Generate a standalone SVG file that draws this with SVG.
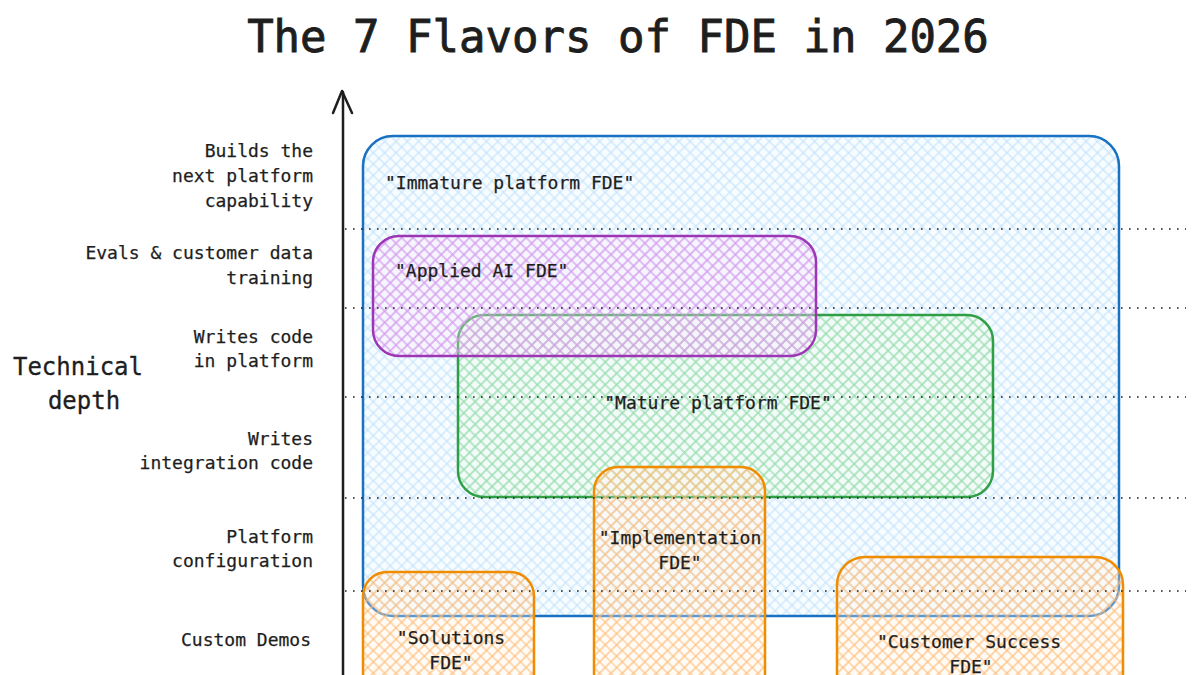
<svg xmlns="http://www.w3.org/2000/svg" width="1200" height="675" viewBox="0 0 1200 675">
  <style>
    .title { font-family: "DejaVu Sans Mono", "Liberation Mono", monospace; font-size: 44px; fill: #1e1e1e; stroke: #1e1e1e; stroke-width: 0.9; }
    .lbl { font-family: "DejaVu Sans Mono", "Liberation Mono", monospace; font-size: 18px; fill: #1e1e1e; stroke: #1e1e1e; stroke-width: 0.25; text-anchor: end; }
    .axislbl { font-family: "DejaVu Sans Mono", "Liberation Mono", monospace; font-size: 24px; fill: #1e1e1e; stroke: #1e1e1e; stroke-width: 0.3; text-anchor: middle; }
    .box-text { font-family: "DejaVu Sans Mono", "Liberation Mono", monospace; font-size: 18px; fill: #1e1e1e; stroke: #1e1e1e; stroke-width: 0.25; }
    .mid { text-anchor: middle; }
    .guide { stroke: #1e1e1e; stroke-width: 1.6; stroke-dasharray: 1.6 6.4; fill: none; }
    .box { stroke-width: 2.5; }
  </style>
  <defs>
    <pattern id="h-blue" width="8" height="8" patternUnits="userSpaceOnUse" patternTransform="rotate(45)">
      <rect width="8" height="8" fill="#e7f5ff" fill-opacity="0.35"/>
      <path d="M4 0 V8 M0 4 H8" stroke="#bfe0fb" stroke-width="1"/>
    </pattern>
    <pattern id="h-purple" width="8" height="8" patternUnits="userSpaceOnUse" patternTransform="rotate(45)">
      <rect width="8" height="8" fill="#f8e6fc" fill-opacity="0.3"/>
      <path d="M4 0 V8 M0 4 H8" stroke="#dc93ec" stroke-width="1.2"/>
    </pattern>
    <pattern id="h-green" width="8" height="8" patternUnits="userSpaceOnUse" patternTransform="rotate(45)">
      <rect width="8" height="8" fill="#ebfbee" fill-opacity="0.3"/>
      <path d="M4 0 V8 M0 4 H8" stroke="#94dea1" stroke-width="1.2"/>
    </pattern>
    <pattern id="h-orange" width="8" height="8" patternUnits="userSpaceOnUse" patternTransform="rotate(45)">
      <rect width="8" height="8" fill="#fff4e6" fill-opacity="0.3"/>
      <path d="M4 0 V8 M0 4 H8" stroke="#ffbb73" stroke-width="1.2"/>
    </pattern>
  </defs>

  <rect width="1200" height="675" fill="#ffffff"/>

  <text class="title" x="618" y="52" text-anchor="middle">The 7 Flavors of FDE in 2026</text>

  <g id="axis-labels">
    <text class="lbl" x="313" y="157">Builds the</text>
    <text class="lbl" x="313" y="182">next platform</text>
    <text class="lbl" x="313" y="207">capability</text>
    <text class="lbl" x="313" y="259">Evals &amp; customer data</text>
    <text class="lbl" x="313" y="284">training</text>
    <text class="lbl" x="313" y="343">Writes code</text>
    <text class="lbl" x="313" y="367">in platform</text>
    <text class="lbl" x="313" y="445">Writes</text>
    <text class="lbl" x="313" y="469">integration code</text>
    <text class="lbl" x="313" y="543">Platform</text>
    <text class="lbl" x="313" y="567">configuration</text>
    <text class="lbl" x="311" y="646">Custom Demos</text>
    <text class="axislbl" x="78" y="375">Technical</text>
    <text class="axislbl" x="84" y="409">depth</text>
  </g>

  <g id="immature-platform-fde">
    <rect class="box" x="363" y="136" width="756" height="480" rx="30" fill="url(#h-blue)" stroke="#1971c2"/>
    <text class="box-text" x="385" y="189">"Immature platform FDE"</text>
  </g>

  <g id="mature-platform-fde">
    <rect class="box" x="458" y="315" width="535" height="182" rx="26" fill="url(#h-green)" stroke="#2f9e44"/>
    <text class="box-text mid" x="718" y="409">"Mature platform FDE"</text>
  </g>

  <g id="applied-ai-fde">
    <rect class="box" x="373" y="236" width="443" height="120" rx="26" fill="url(#h-purple)" stroke="#9c36b5"/>
    <text class="box-text" x="395" y="277">"Applied AI FDE"</text>
  </g>

  <g id="implementation-fde">
    <rect class="box" x="594" y="467" width="171" height="230" rx="24" fill="url(#h-orange)" stroke="#f08c00"/>
    <text class="box-text mid" x="680" y="544">"Implementation</text>
    <text class="box-text mid" x="680" y="569">FDE"</text>
  </g>

  <g id="solutions-fde">
    <rect class="box" x="363" y="572" width="171" height="130" rx="24" fill="url(#h-orange)" stroke="#f08c00"/>
    <text class="box-text mid" x="451" y="644">"Solutions</text>
    <text class="box-text mid" x="451" y="669">FDE"</text>
  </g>

  <g id="customer-success-fde">
    <rect class="box" x="837" y="557" width="286" height="145" rx="28" fill="url(#h-orange)" stroke="#f08c00"/>
    <text class="box-text mid" x="969" y="648">"Customer Success</text>
    <text class="box-text mid" x="971" y="673">FDE"</text>
  </g>

  <g id="guides">
    <line class="guide" x1="345" y1="229" x2="1186" y2="229"/>
    <line class="guide" x1="345" y1="308" x2="1186" y2="308"/>
    <line class="guide" x1="345" y1="397" x2="1186" y2="397"/>
    <line class="guide" x1="345" y1="498" x2="1186" y2="498"/>
    <line class="guide" x1="345" y1="591" x2="1186" y2="591"/>
  </g>

  <g id="connectors">
    <line x1="343" y1="92" x2="343" y2="675" stroke="#1e1e1e" stroke-width="2.5" stroke-linecap="round"/>
    <path d="M333 113 L342 91 L352 113" fill="none" stroke="#1e1e1e" stroke-width="2.5" stroke-linecap="round" stroke-linejoin="round"/>
  </g>
</svg>
